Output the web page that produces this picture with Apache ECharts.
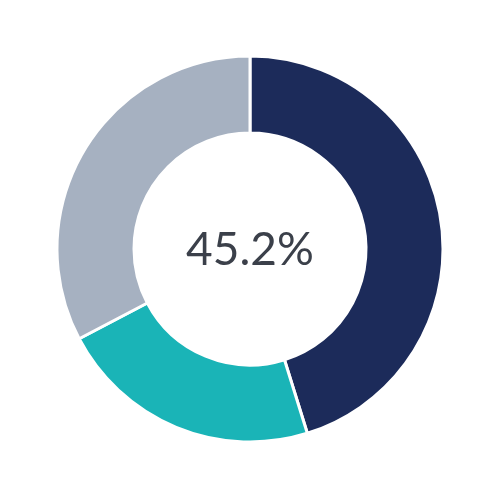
<!DOCTYPE html>
<html><head><meta charset="utf-8">
<script src="https://cdn.jsdelivr.net/npm/echarts@6/dist/echarts.min.js"></script>
<style>html,body{margin:0;padding:0;background:#fff}#c{width:500px;height:500px}</style>
</head><body><div id="c"></div>
<script>
const categories = ['A', 'B', 'C'];
const values = [45.2, 22.1, 32.7];
const colors = ['#1c2b5a', '#1ab4b7', '#a6b1c1'];
const centerLabel = '45.2%';

const chart = echarts.init(document.getElementById('c'));
chart.setOption({
  animation: false,
  backgroundColor: '#fff',
  title: {
    text: centerLabel, left: 'center', top: 222,
    textStyle: { fontFamily: 'Lato', fontWeight: 'normal', fontSize: 46, color: '#3b404a' }
  },
  series: [{
    type: 'pie',
    center: [250, 249],
    radius: [116, 193],
    startAngle: 90,
    clockwise: true,
    label: { show: false },
    labelLine: { show: false },
    itemStyle: { borderColor: '#fff', borderWidth: 3 },
    data: categories.map((c, i) => ({ name: c, value: values[i], itemStyle: { color: colors[i] } }))
  }]
});
</script></body></html>
